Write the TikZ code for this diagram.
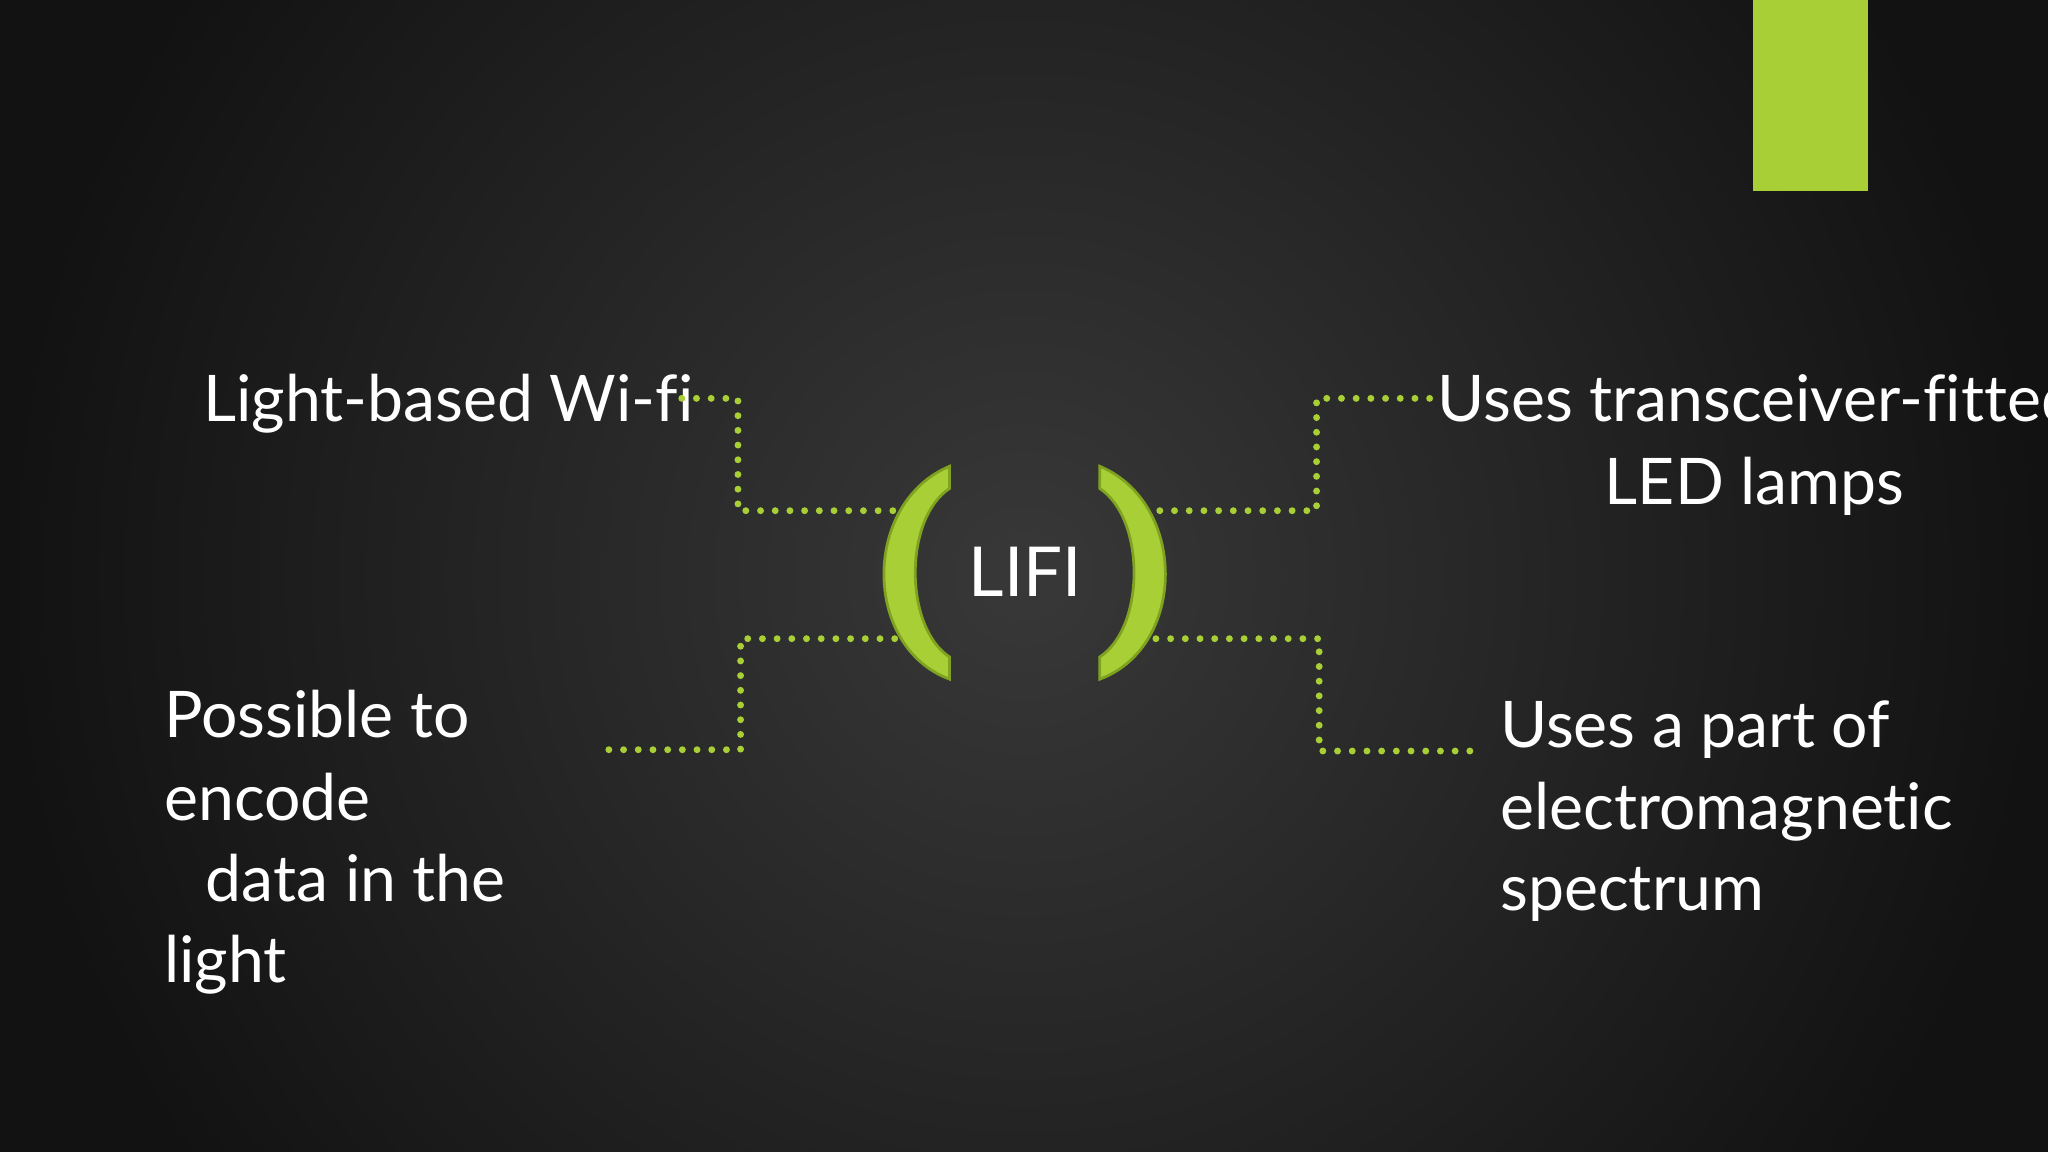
\documentclass[tikz,border=0pt]{standalone}
\usepackage{fontspec}
\setmainfont{Lato}[Ligatures=NoCommon]
\definecolor{lime}{HTML}{A8D036}
\definecolor{limedark}{HTML}{7FA320}
\begin{document}
\begin{tikzpicture}[x=0.01cm,y=-0.01cm,
  txt/.style={text=white,font=\fontsize{14}{17}\selectfont,inner sep=0,anchor=base west},
  conn/.style={lime,line width=1.5pt,dash pattern=on 0pt off 3.2pt,line cap=round},
  brk/.style={fill=lime,draw=limedark,line width=0.6pt}]
\clip (0,0) rectangle (1568,882);
\useasboundingbox (0,0) rectangle (1568,882);
\fill[black!93] (0,0) rectangle (1568,882);
\shade[inner color=black!78,outer color=black!93] (0,-350) rectangle (1568,1232);
\fill[lime] (1342,0) rectangle (1430,146);
% brackets
\path[brk] (727,357) .. controls (660,385) and (660,495) .. (727,520) -- (727,503) .. controls (692,480) and (692,397) .. (727,374) -- cycle;
\path[brk] (842,357) .. controls (909,385) and (909,495) .. (842,520) -- (842,503) .. controls (877,480) and (877,397) .. (842,374) -- cycle;
\node[txt,anchor=center,font=\fontsize{15}{18}\selectfont] (lifi) at (785,438) {LIFI};
% texts
\node[txt] (t1) at (155,323) {Light-based Wi-fi};
\node[txt] (t2) at (1100,323) {Uses transceiver-fitted};
\node[txt] (t2b) at (1228,386) {LED lamps};
\node[txt] (t3a) at (125,565) {Possible to};
\node[txt] (t3b) at (125,628) {encode};
\node[txt] (t3c) at (157,690) {data in the};
\node[txt] (t3d) at (125,752) {light};
\node[txt] (t4a) at (1148,572) {Uses a part of};
\node[txt] (t4b) at (1148,635) {electromagnetic};
\node[txt] (t4c) at (1148,697) {spectrum};
% connector endpoints
\coordinate (a1) at (522,305); \coordinate (a2) at (685,391);
\coordinate (b1) at (685,489); \coordinate (b2) at (456,574);
\coordinate (c1) at (888,391); \coordinate (c2) at (1100,305);
\coordinate (d1) at (885,489); \coordinate (d2) at (1127,575);
\draw[conn] (a1) -- (565,305) -- (565,391) -- (a2);
\draw[conn] (b1) -- (567,489) -- (567,574) -- (b2);
\draw[conn] (c1) -- (1008,391) -- (1008,305) -- (c2);
\draw[conn] (d1) -- (1010,489) -- (1010,575) -- (d2);
\end{tikzpicture}
\end{document}
